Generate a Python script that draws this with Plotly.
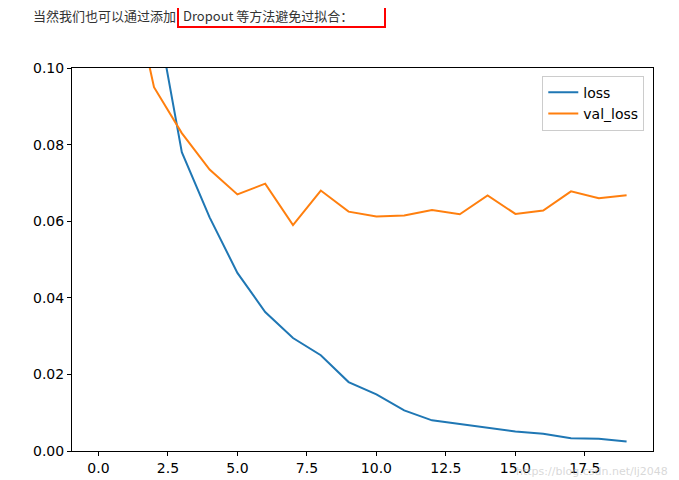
import plotly.graph_objects as go

epochs = list(range(20))
loss = [0.45, 0.2, 0.118, 0.078, 0.061, 0.0465, 0.0363, 0.0295, 0.025, 0.018, 0.0148, 0.0106, 0.008, 0.007, 0.006, 0.0051, 0.0045, 0.0033, 0.0032, 0.0025]
val_loss = [0.2, 0.128, 0.095, 0.083, 0.0735, 0.067, 0.0698, 0.059, 0.068, 0.0625, 0.0612, 0.0615, 0.0629, 0.0618, 0.0667, 0.0619, 0.0628, 0.0678, 0.066, 0.0668]
xticks = [0, 2.5, 5, 7.5, 10, 12.5, 15, 17.5]
yticks = [0, 0.02, 0.04, 0.06, 0.08, 0.10]

W, H = 679, 480
OFF = 8  # page body margin
L, R, T, B = 72, 653, 68, 442
def px(x): return (x - L) / (R - L)
def py(y): return (B - y) / (B - T)

fig = go.Figure()
fig.add_trace(go.Scatter(x=epochs, y=loss, mode="lines", name="loss", line=dict(color="#1f77b4", width=2)))
fig.add_trace(go.Scatter(x=epochs, y=val_loss, mode="lines", name="val_loss", line=dict(color="#ff7f0e", width=2)))

axis_common = dict(showgrid=False, zeroline=False, showline=True, mirror=True, linecolor="black", linewidth=1,
                   ticks="outside", ticklen=4, tickcolor="black", tickfont=dict(size=14, color="black"))
fig.update_xaxes(range=[-0.95, 19.95], tickvals=xticks, ticktext=[f"{v:.1f}" for v in xticks], **axis_common)
fig.update_yaxes(range=[0, 0.1], tickvals=yticks, ticktext=[f"{v:.2f}" for v in yticks], **axis_common)

fig.add_annotation(text="当然我们也可以通过添加", x=px(178), y=py(17), xref="paper", yref="paper",
                   xanchor="right", yanchor="middle", showarrow=False,
                   font=dict(size=13, color="#333", family="Noto Sans CJK SC"))
fig.add_annotation(text="Dropout 等方法避免过拟合：", x=px(181), y=py(17), xref="paper", yref="paper",
                   xanchor="left", yanchor="middle", showarrow=False,
                   font=dict(size=13, color="#333", family="Noto Sans CJK SC"))
fig.add_shape(type="rect", xref="paper", yref="paper", x0=px(178), x1=px(385), y0=py(28), y1=py(5),
              line=dict(color="red", width=2))
fig.add_annotation(text="https://blog.csdn.net/lj2048", x=px(670), y=py(462), xref="paper", yref="paper",
                   xanchor="right", yanchor="middle", showarrow=False,
                   font=dict(size=11, color="rgba(190,190,190,0.6)"))

fig.update_layout(width=W, height=H, margin=dict(l=L - OFF, r=W - R + OFF, t=T - OFF, b=H - B - OFF),
                  paper_bgcolor="white", plot_bgcolor="white",
                  font=dict(family="DejaVu Sans", color="black"),
                  legend=dict(x=0.985, y=0.98, xanchor="right", yanchor="top", bordercolor="#ccc", borderwidth=1,
                              font=dict(size=14), bgcolor="white"))
fig.write_html("out.html")
